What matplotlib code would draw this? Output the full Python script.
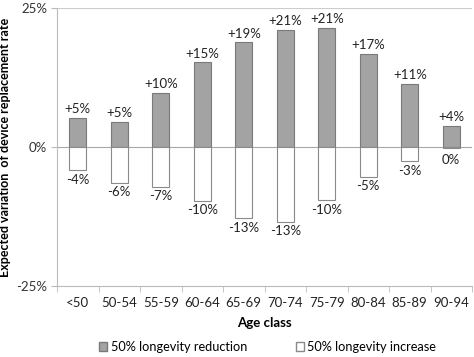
import matplotlib.pyplot as plt
import numpy as np
from matplotlib.patches import Patch

plt.rcParams['font.family'] = ['Lato', 'DejaVu Sans']

# data (percent)
age_classes = ["<50", "50-54", "55-59", "60-64", "65-69", "70-74", "75-79", "80-84", "85-89", "90-94"]
reduction = [5.3, 4.5, 9.7, 15.2, 18.8, 21.1, 21.4, 16.8, 11.3, 3.8]
increase = [-4.2, -6.4, -7.2, -9.7, -12.8, -13.4, -9.6, -5.4, -2.6, -0.2]
reduction_labels = ["+5%", "+5%", "+10%", "+15%", "+19%", "+21%", "+21%", "+17%", "+11%", "+4%"]
increase_labels = ["-4%", "-6%", "-7%", "-10%", "-13%", "-13%", "-10%", "-5%", "-3%", "0%"]

fig = plt.figure(figsize=(4.74, 3.57), dpi=100)
ax = fig.add_axes([57 / 474, 1 - 286 / 357, 415 / 474, 278 / 357])

x = np.arange(len(age_classes))
width = 0.41
ax.bar(x, reduction, width, color='#a3a3a3', edgecolor='#7a7a7a', linewidth=0.8, zorder=3)
ax.bar(x, increase, width, color='white', edgecolor='#8a8a8a', linewidth=0.8, zorder=3)

for i in range(len(x)):
    ax.text(x[i], reduction[i] + 0.5, reduction_labels[i], ha='center', va='bottom', fontsize=9.5, color='#222222')
    ax.text(x[i], min(increase[i], -0.6) - 0.6, increase_labels[i], ha='center', va='top', fontsize=9.5, color='#222222')

ax.set_xlim(-0.5, len(x) - 0.5)
ax.set_ylim(-25, 25)
ax.set_yticks([-25, 0, 25])
ax.set_yticklabels(["-25%", "0%", "25%"], fontsize=9.5, color='#333333')
ax.axhline(25, color='#cccccc', linewidth=0.8, zorder=1)
ax.axhline(0, color='#a8a8a8', linewidth=0.8, zorder=2)

ax.set_xticks(x)
ax.set_xticklabels(age_classes, fontsize=9.5, color='#222222')
ax.set_xticks(np.arange(-0.5, len(x)), minor=True)
ax.tick_params(axis='x', which='major', length=0, pad=8)
ax.tick_params(axis='x', which='minor', length=4, color='#bbbbbb')
ax.tick_params(axis='y', length=4, color='#bbbbbb', pad=3)

for side in ['top', 'right']:
    ax.spines[side].set_visible(False)
ax.spines['left'].set_color('#bbbbbb')
ax.spines['bottom'].set_color('#bbbbbb')

ax.set_xlabel("Age class", fontsize=9.5, fontweight='bold', labelpad=6)
ax.set_ylabel("Expected variation  of device replacement rate", fontsize=9, fontweight='bold', labelpad=4)

handles = [Patch(facecolor='#a3a3a3', edgecolor='#7a7a7a', label='50% longevity reduction'),
           Patch(facecolor='white', edgecolor='#8a8a8a', label='50% longevity increase')]
fig.legend(handles=handles, loc='center', bbox_to_anchor=(0.565, 1 - 347 / 357), ncol=2, frameon=False,
           fontsize=9.2, handlelength=0.6, handleheight=0.6, handletextpad=0.3, columnspacing=3.8)

fig.savefig("out.png", dpi=100)
